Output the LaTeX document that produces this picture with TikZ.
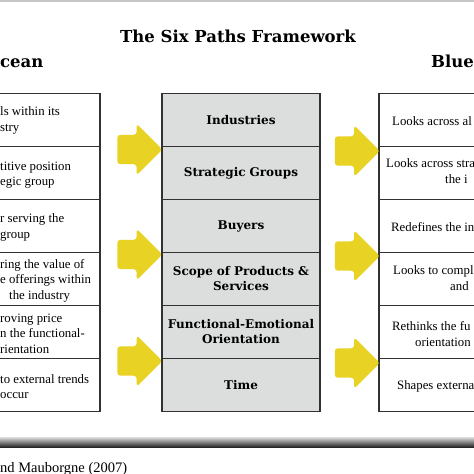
\documentclass[tikz,border=0pt]{standalone}
\usepackage{fontspec}
\setmainfont{Liberation Serif}
\newfontfamily\slabfont{DejaVu Serif}
\usepackage{tikz}
\usetikzlibrary{positioning,shapes.arrows}
\definecolor{c_arrow}{RGB}{232,210,36}
\definecolor{c_mid}{RGB}{220,222,222}
\definecolor{c_line}{RGB}{50,50,50}
\tikzset{c-cell/.style={rectangle, minimum width=158pt, minimum height=53pt, outer sep=0pt, inner sep=2pt, draw=c_line, line width=1.2pt, fill=white},
c-mid/.style={c-cell, fill=c_mid, text width=154pt, align=center, font=\slabfont\bfseries\fontsize{12}{15}\selectfont},
c-text/.style={inner sep=0pt, align=left, font=\fontsize{12.8}{15.5}\selectfont},
c-head/.style={inner sep=0pt, font=\slabfont\bfseries\fontsize{16.5}{19}\selectfont},
c-arrow/.style={single arrow, fill=c_arrow, draw=none, minimum height=45pt, minimum width=51pt, single arrow head extend=11pt, inner xsep=0pt, inner ysep=14.5pt, rounded corners=3pt}}

\begin{document}
\begin{tikzpicture}[x=1pt, y=-1pt]
\useasboundingbox (0,0) rectangle (474,474);
\clip (0,0) rectangle (474,474);
\fill[white] (0,0) rectangle (474,474);
\fill[gray!45] (0,0) rectangle (474,2);
% headings
\node (title) [c-head, anchor=base] at (238,42) {The Six Paths Framework};
\node (red) [c-head, anchor=base west] at (0,67) {cean};
\node (blue) [c-head, anchor=base west] at (431,67) {Blue};
% middle column
\node (m1) [c-mid] at (241,120) {Industries};
\node (m2) [c-mid, below=0pt of m1] {Strategic Groups};
\node (m3) [c-mid, below=0pt of m2] {Buyers};
\node (m4) [c-mid, below=0pt of m3] {Scope of Products \&\\ Services};
\node (m5) [c-mid, below=0pt of m4] {Functional-Emotional\\ Orientation};
\node (m6) [c-mid, below=0pt of m5] {Time};
% left column
\node (l1) [c-cell] at (21,120) {};
\node (l2) [c-cell, below=0pt of l1] {};
\node (l3) [c-cell, below=0pt of l2] {};
\node (l4) [c-cell, below=0pt of l3] {};
\node (l5) [c-cell, below=0pt of l4] {};
\node (l6) [c-cell, below=0pt of l5] {};
\node (lt1) [c-text, anchor=west] at (0,120.5) {ls within its\\stry};
\node (lt2) [c-text, anchor=west] at (0,175) {titive position\\egic group};
\node (lt3) [c-text, anchor=west] at (0,227.5) {r serving the\\group};
\node (lt4) [c-text, anchor=west] at (0,280.5) {ring the value of\\e offerings within\\\hspace*{9pt}the industry};
\node (lt5) [c-text, anchor=west] at (0,333.5) {roving price\\n the functional-\\rientation};
\node (lt6) [c-text, anchor=west] at (0,386.5) {to external trends\\occur};
% right column
\node (r1) [c-cell] at (458,120) {};
\node (r2) [c-cell, below=0pt of r1] {};
\node (r3) [c-cell, below=0pt of r2] {};
\node (r4) [c-cell, below=0pt of r3] {};
\node (r5) [c-cell, below=0pt of r4] {};
\node (r6) [c-cell, below=0pt of r5] {};
\node (rt1) [c-text, anchor=west] at (392,121) {Looks across al};
\node (rt2) [c-text, anchor=west] at (386,171) {Looks across stra\\\hspace*{59pt}the i};
\node (rt3) [c-text, anchor=west] at (391,227) {Redefines the in};
\node (rt4) [c-text, anchor=west] at (393,278) {Looks to compl\\\hspace*{57pt}and};
\node (rt5) [c-text, anchor=west] at (392,334) {Rethinks the fu\\\hspace*{23pt}orientation};
\node (rt6) [c-text, anchor=west] at (397,386) {Shapes externa};
% arrows
\node (al1) [c-arrow] at (132.5,149.5) {};
\node (al2) [c-arrow] at (132.5,254.5) {};
\node (al3) [c-arrow] at (132.5,361) {};
\node (ar1) [c-arrow] at (350,151) {};
\node (ar2) [c-arrow] at (350,256) {};
\node (ar3) [c-arrow] at (350,363) {};
% bottom rule and source
\shade[top color=gray!25, bottom color=black!85] (0,437) rectangle (474,447);
\node (src) [c-text, anchor=base west, font=\fontsize{14.5}{16}\selectfont] at (0,472) {nd Mauborgne (2007)};
\end{tikzpicture}
\end{document}
